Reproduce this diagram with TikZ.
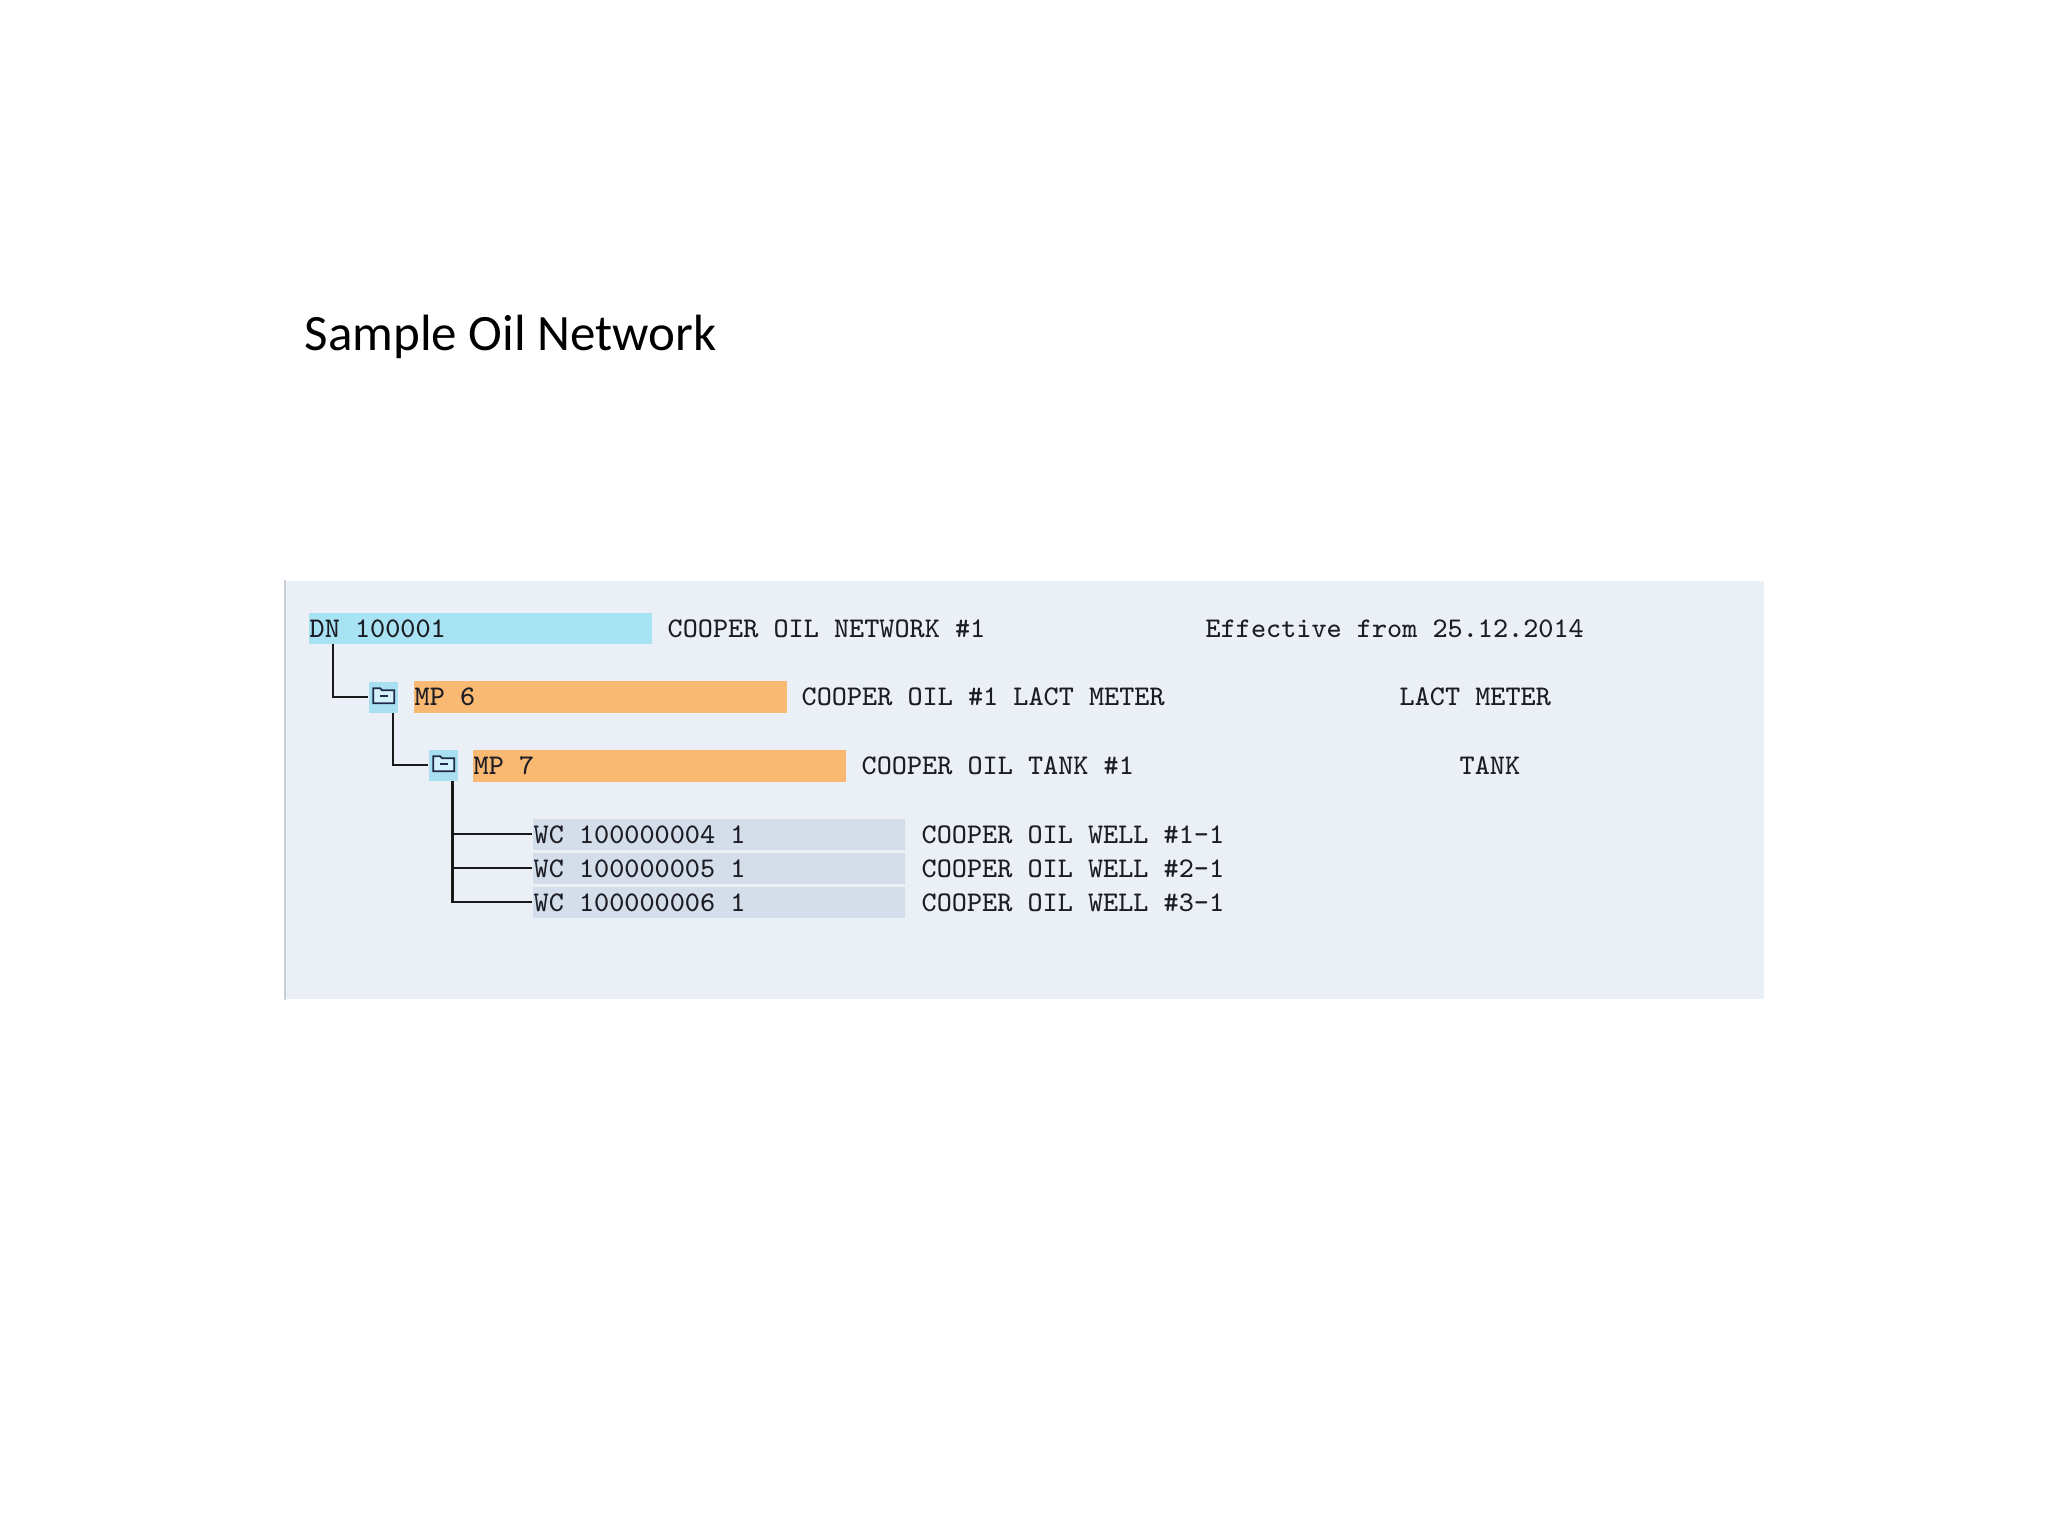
\documentclass[tikz,border=0pt]{standalone}
\usepackage{fontspec}
\setmainfont{Carlito}
\definecolor{panelbg}{HTML}{EBF0F7}
\definecolor{paneledge}{HTML}{C9CED6}
\definecolor{dncol}{HTML}{A8E3F3}
\definecolor{mpcol}{HTML}{FAB972}
\definecolor{wccol}{HTML}{D4DEEA}
\definecolor{iconbg}{HTML}{A9E0F1}
\definecolor{iconin}{HTML}{D2F1FA}
\definecolor{iconline}{HTML}{1E2A48}
\definecolor{txtcol}{HTML}{1C1C24}
\begin{document}
\begin{tikzpicture}[x=0.01cm,y=-0.01cm,
  bar/.style={draw=none,inner sep=0pt,anchor=north west},
  dnbar/.style={bar,fill=dncol,minimum width=3.43cm,minimum height=0.31cm},
  mpbar/.style={bar,fill=mpcol,minimum width=3.73cm,minimum height=0.32cm},
  wcbar/.style={bar,fill=wccol,minimum width=3.72cm,minimum height=0.31cm},
  iconbox/.style={bar,fill=iconbg,minimum width=0.29cm,minimum height=0.31cm},
  mono/.style={inner sep=0pt,anchor=base west,text=txtcol,font=\ttfamily\fontsize{8.1pt}{9pt}\selectfont},
  conn/.style={draw=black!90,line width=0.7pt},
  glyph/.style={draw=iconline,line width=0.5pt,fill=iconin}
]
\useasboundingbox (0,0) rectangle (2048,1536);
\fill[white] (0,0) rectangle (2048,1536);

% title
\node[inner sep=0pt,anchor=base west,font=\fontsize{14.5pt}{17pt}\selectfont] (title) at (304,350) {Sample Oil Network};

% panel
\node[bar,fill=panelbg,minimum width=14.77cm,minimum height=4.18cm] (panel) at (285,580) {};
\draw[paneledge,line width=0.5pt] (panel.north west) -- (panel.south west);

% bars
\node[dnbar] (dn) at (308,612) {};
\node[mpbar] (mp6) at (413,680) {};
\node[mpbar] (mp7) at (472,749) {};
\node[wcbar] (wc1) at (532,818) {};
\node[wcbar] (wc2) at (532,852) {};
\node[wcbar] (wc3) at (532,886) {};

% icons
\node[iconbox] (ic1) at (368,681) {};
\node[iconbox] (ic2) at (428,749) {};
\foreach \ic in {ic1,ic2}{
  \begin{scope}[shift={(\ic.center)}]
    \draw[glyph] (-10,6) -- (-10,-9) -- (-3,-9) -- (-1,-7) -- (11,-7) -- (11,6) -- cycle;
    \draw[iconline,line width=0.55pt] (-3,-1) -- (5,-1);
  \end{scope}
}

% connectors
\draw[conn] ([xshift=0.25cm]dn.south west) |- (ic1.west);
\draw[conn] ([xshift=0.10cm]ic1.south) |- (ic2.west);
\draw[conn] ([xshift=0.095cm]ic2.south) |- (wc1.west);
\draw[conn] ([xshift=0.095cm]ic2.south) |- (wc2.west);
\draw[conn] ([xshift=0.095cm]ic2.south) |- (wc3.west);

% texts
\node[mono] (tdn) at (309,637) {DN 100001};
\node[mono] (tnet) at (667,637) {COOPER OIL NETWORK \#1};
\node[mono] (teff) at (1205,637) {Effective from 25.12.2014};
\node[mono] (tmp6) at (414,705) {MP 6};
\node[mono] (tlact) at (801,705) {COOPER OIL \#1 LACT METER};
\node[mono] (tlact2) at (1399,705) {LACT METER};
\node[mono] (tmp7) at (473,774) {MP 7};
\node[mono] (ttank) at (861,774) {COOPER OIL TANK \#1};
\node[mono] (ttank2) at (1459,774) {TANK};
\node[mono] (twc1) at (533,843) {WC 100000004 1};
\node[mono] (twc2) at (533,877) {WC 100000005 1};
\node[mono] (twc3) at (533,911) {WC 100000006 1};
\node[mono] (tw1) at (921,843) {COOPER OIL WELL \#1-1};
\node[mono] (tw2) at (921,877) {COOPER OIL WELL \#2-1};
\node[mono] (tw3) at (921,911) {COOPER OIL WELL \#3-1};
\end{tikzpicture}
\end{document}
